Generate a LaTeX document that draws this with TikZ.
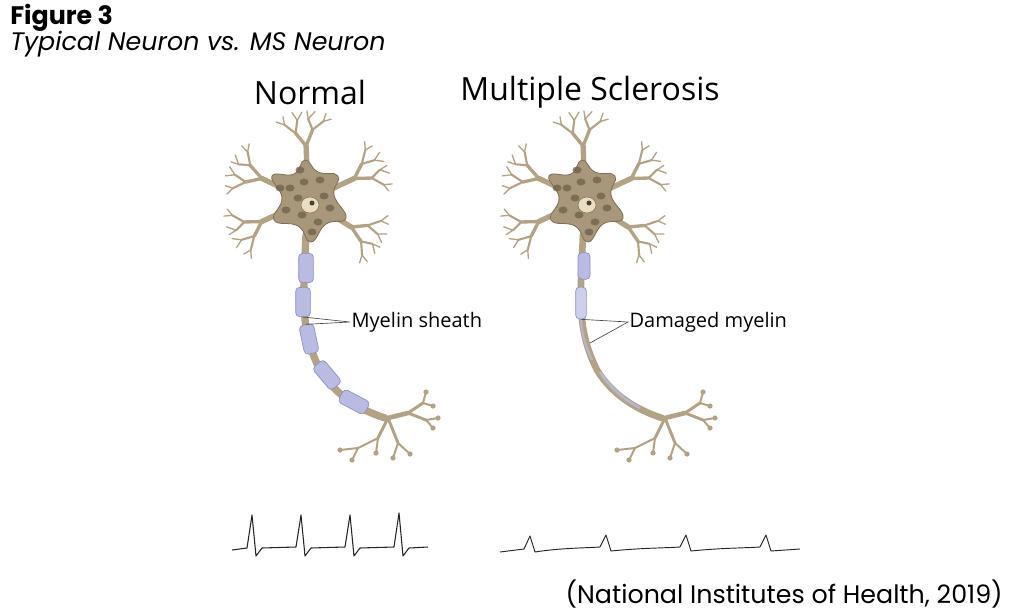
\documentclass[tikz,border=0pt]{standalone}
\usepackage{fontspec}
\setmainfont{Poppins}
\newfontfamily\labfont{Open Sans}
\definecolor{tan}{HTML}{B3A384}
\definecolor{tandk}{HTML}{7E6E55}
\definecolor{soma}{HTML}{A8977A}
\definecolor{nucl}{HTML}{E9DDC2}
\definecolor{myel}{HTML}{B9BBE3}
\definecolor{myeldk}{HTML}{8C8EC0}
\tikzset{
 dend/.style={tan,line cap=round,line join=round},
 myelin/.style={draw=myeldk,fill=myel,rounded corners=3pt,line width=0.5pt,minimum width=11pt,minimum height=22pt,inner sep=0pt},
 lbl/.style={font=\labfont\fontsize{15}{18}\selectfont,anchor=west,inner sep=1pt},
 ptr/.style={draw=black!70,line width=0.5pt},
 trace/.style={draw=black!85,line width=0.8pt,line join=round},
}
\newcommand\dendtree{%
 \draw[dend,line width=4pt] (0,0)--(24,0);
 \draw[dend,line width=2.5pt] (24,0)--(37,-10) (24,0)--(40,7);
 \draw[dend,line width=1.6pt] (37,-10)--(46,-21) (37,-10)--(50,-8) (40,7)--(51,3) (40,7)--(48,18);
 \draw[dend,line width=1pt] (46,-21)--(49,-29) (46,-21)--(54,-22) (50,-8)--(58,-13) (50,-8)--(58,-3)
   (51,3)--(59,2) (51,3)--(58,10) (48,18)--(56,21) (48,18)--(50,26);
}
\newcommand\terminal{%
 \draw[dend,line width=3.5pt] (0,0)--(20,-5);
 \draw[dend,line width=2.2pt] (20,-5)--(35,-15) (20,-5)--(38,2) (0,0)--(-10,20) (0,0)--(10,25);
 \draw[dend,line width=1.5pt] (35,-15)--(45,-12) (35,-15)--(38,-26) (38,2)--(50,0) (38,2)--(45,10)
   (-10,20)--(-30,30) (-10,20)--(-12,35) (10,25)--(5,40) (10,25)--(22,36) (-30,30)--(-48,32) (-30,30)--(-36,42);
 \foreach \p in {(45,-12),(38,-26),(50,0),(45,10),(-12,35),(5,40),(22,36),(-48,32),(-36,42)} \fill[tan] \p circle (2.6);
}
\newcommand\somadraw{%
 \fill[soma,draw=tandk,line width=0.6pt] plot[smooth cycle,tension=0.8] coordinates
 {(-3,-40) (10,-28) (30,-24) (26,-5) (38,18) (18,24) (3,42) (-10,26) (-34,20) (-26,-2) (-36,-24) (-14,-26)};
 \foreach \a/\b in {-18/-12,-8/-30,12/-20,22/8,10/22,-6/15,-22/10,-28/-12,16/-4,-10/-2,4/32,-4/-18}
   \fill[tandk!90!black,opacity=0.8] (\a,\b) ellipse (4.5 and 3.5);
 \fill[nucl,draw=tandk] (2,5) ellipse (9 and 8);
 \fill[tandk!60!black] (4,3) circle (2.5);
}
\newcommand\dendrites{%
 \begin{scope}[rotate=92,shift={(30,0)}]\dendtree\end{scope}
 \begin{scope}[rotate=155,shift={(27,0)}]\dendtree\end{scope}
 \begin{scope}[rotate=205,shift={(27,0)}]\dendtree\end{scope}
 \begin{scope}[rotate=25,shift={(27,0)}]\dendtree\end{scope}
 \begin{scope}[rotate=-32,shift={(27,0)}]\dendtree\end{scope}
}
\begin{document}
\begin{tikzpicture}[x=0.75pt,y=-0.75pt]
\useasboundingbox (0,0) rectangle (1016,614);
\node[anchor=west,font=\bfseries\fontsize{19}{22}\selectfont,inner sep=0] (fig) at (10,18) {Figure 3};
\node[anchor=west,font=\itshape\fontsize{19}{22}\selectfont,inner sep=0] (sub) at (10,44) {Typical Neuron vs. MS Neuron};
\node[font=\labfont\fontsize{24}{28}\selectfont] (tn) at (310,92) {Normal};
\node[font=\labfont\fontsize{24}{28}\selectfont] (tm) at (590,92) {Multiple Sclerosis};
\node[anchor=east,font=\fontsize{19}{22}\selectfont,inner sep=0] (cite) at (1003,594) {(National Institutes of Health, 2019)};

% ---------- Normal neuron ----------
\begin{scope}[shift={(308,200)}]\dendrites\end{scope}
\draw[dend,line width=5.5pt] (306,235) .. controls (303,300) and (300,330) .. (320,370) .. controls (335,395) and (360,410) .. (385,418);
\begin{scope}[shift={(308,200)}]\somadraw\end{scope}
\begin{scope}[shift={(388,418)}]\terminal\end{scope}
\node[myelin] (m1) at (306,268) {};
\node[myelin] (m2) at (303,302) {};
\node[myelin,rotate=12] (m3) at (309,339) {};
\node[myelin,rotate=40] (m4) at (327,375) {};
\node[myelin,rotate=62] (m5) at (354,402) {};
\node[lbl] (ms) at (350,322) {Myelin sheath};
\draw[ptr] (m2.south) -- (ms.west) -- (m3.north);

% ---------- MS neuron ----------
\begin{scope}[shift={(585,200)}]\dendrites\end{scope}
\draw[dend,line width=5pt] (583,235) .. controls (580,300) and (577,330) .. (597,370) .. controls (612,395) and (637,410) .. (662,418);
\draw[myel,line width=1.5pt,opacity=0.8] (581,310) .. controls (580,330) and (585,345) .. (592,360);
\draw[myel,line width=2pt,opacity=0.8] (600,372) .. controls (612,390) and (625,400) .. (640,408);
\begin{scope}[shift={(585,200)}]\somadraw\end{scope}
\begin{scope}[shift={(665,418)}]\terminal\end{scope}
\node[myelin,minimum width=9pt,minimum height=20pt] (d1) at (584,266) {};
\node[myelin,minimum width=8pt,minimum height=24pt,fill=myel!70] (d2) at (581,303) {};
\coordinate (d3) at (590,343);
\node[lbl] (dm) at (628,322) {Damaged myelin};
\draw[ptr] (d2.south) -- (dm.west) -- (d3);

% ---------- traces ----------
\draw[trace] (232,550) -- (247,548) -- (252,515) -- (256,556) -- (262,548) -- (296,547) -- (301,515) -- (305,556) -- (311,548) -- (345,547) -- (350,515) -- (354,556) -- (360,548) -- (394,547) -- (399,513) -- (403,556) -- (409,548) -- (428,547);
\draw[trace,line width=0.7pt] (500,552) -- (524,549) -- (530,536) -- (535,552) .. controls (560,548) and (585,548) .. (600,547) -- (606,535) -- (611,551) .. controls (640,548) and (665,548) .. (680,547) -- (686,535) -- (691,551) .. controls (720,548) and (745,548) .. (760,547) -- (766,535) -- (771,551) -- (800,549);
\end{tikzpicture}
\end{document}
